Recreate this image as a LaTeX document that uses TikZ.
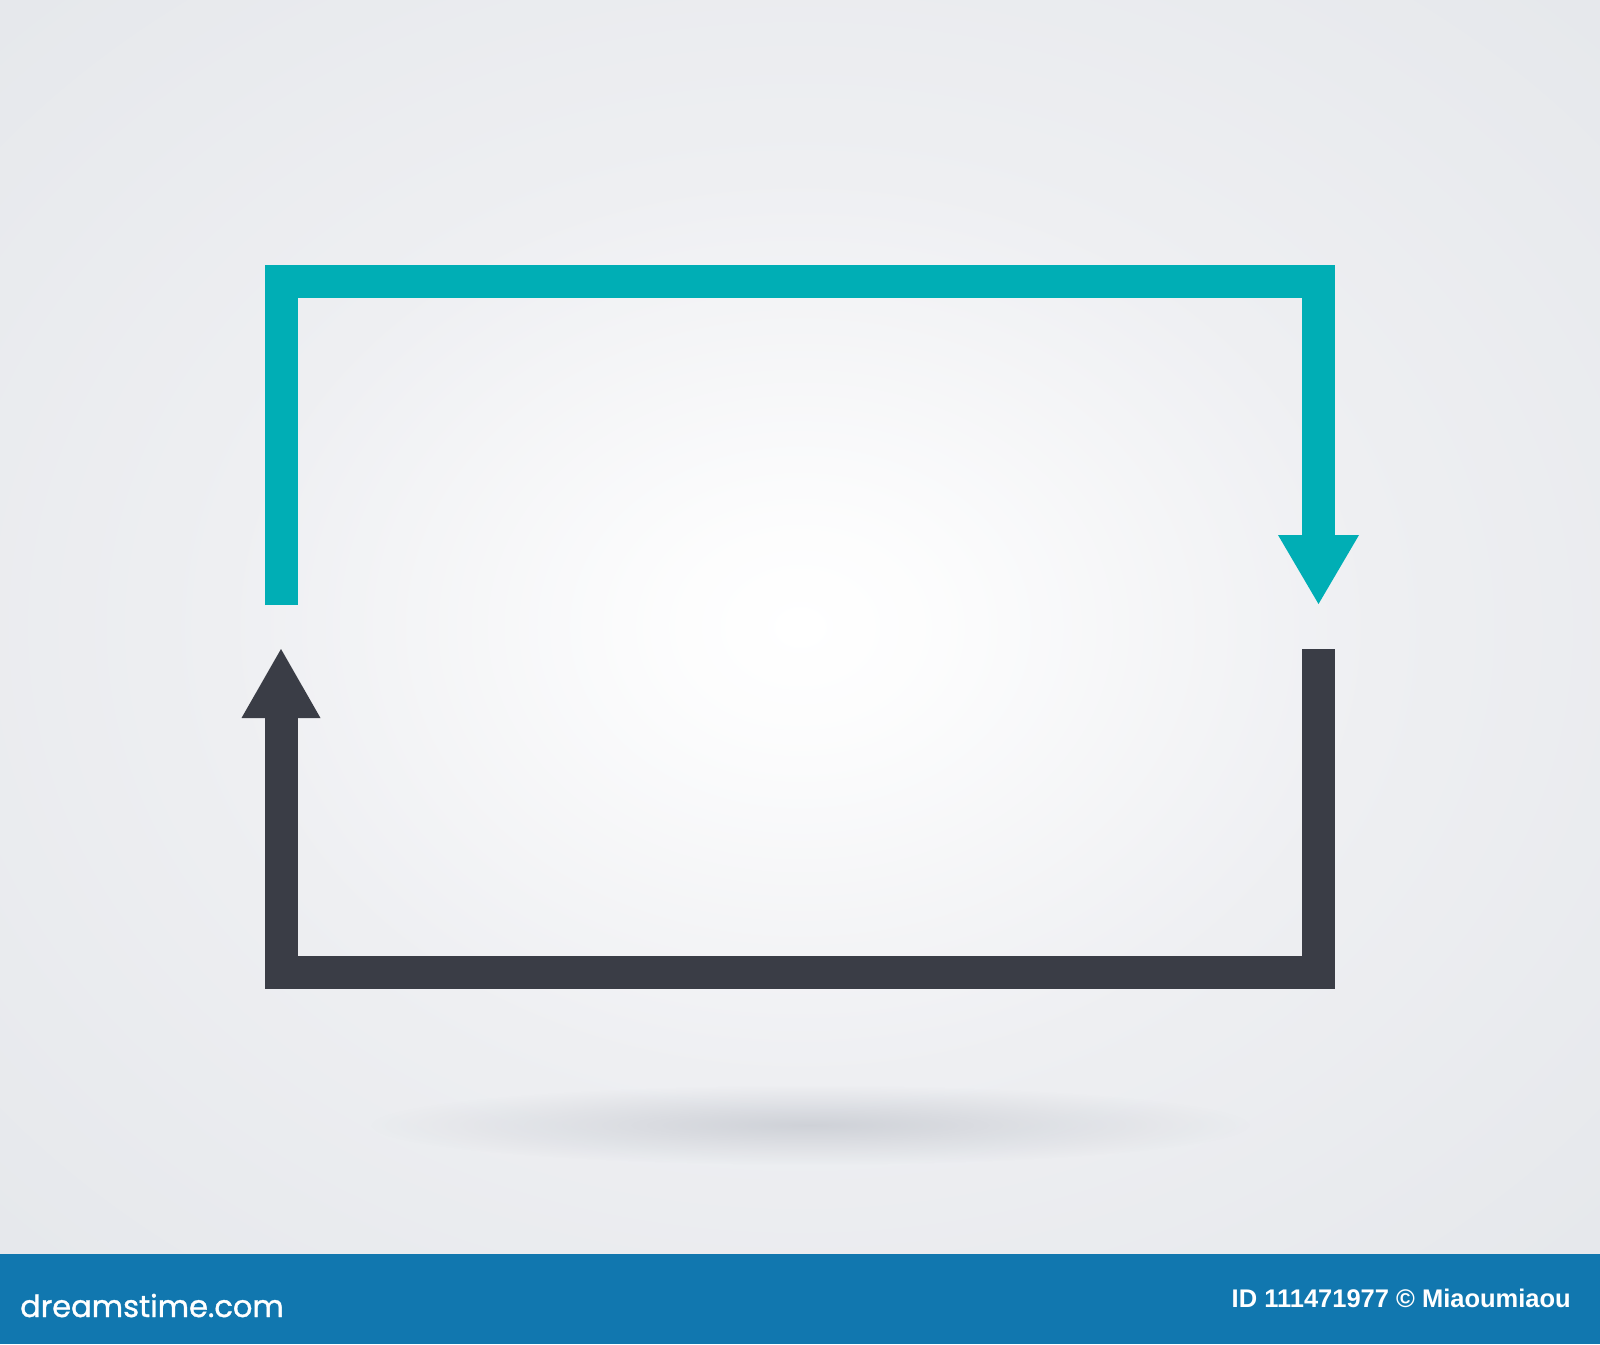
\documentclass[tikz,border=0pt]{standalone}
\usepackage{fontspec}
\newfontfamily\logofont[FakeBold=1.2]{Poppins}
\newfontfamily\idfont{Liberation Sans}
\usetikzlibrary{fadings}
\definecolor{tealc}{HTML}{00AEB5}
\definecolor{darkc}{HTML}{3A3D46}
\definecolor{bandc}{HTML}{1177AF}
\definecolor{bgedge}{RGB}{225,228,232}
\definecolor{bgmid}{RGB}{238,239,242}
\definecolor{shadowc}{RGB}{170,175,185}
\pgfdeclareradialshading{bgshade}{\pgfpoint{0bp}{0bp}}{color(0bp)=(white); color(4bp)=(white!85!bgmid); color(18bp)=(bgmid); color(45bp)=(bgedge); color(75bp)=(bgedge)}
\tikzfading[name=softfade, inner color=transparent!0, outer color=transparent!100]
\tikzset{
  loopline/.style={line width=33pt, line join=miter, line cap=butt},
  tiphead/.style={draw=none},
  bandtext/.style={text=white, inner sep=0pt}
}
\begin{document}
\begin{tikzpicture}[x=1pt, y=-1pt]
\useasboundingbox (0,0) rectangle (1600,1344);
% background
\shade[shading=bgshade] (0,0) rectangle (1600,1254);
% soft shadow
\fill[shadowc, opacity=0.45, path fading=softfade] (810,1125) ellipse [x radius=440pt, y radius=40pt];
% coordinates
\coordinate (tStart) at (281,605);
\coordinate (tC1) at (281,281);
\coordinate (tC2) at (1318.5,281);
\coordinate (tEnd) at (1318.5,535);
\coordinate (tL) at (1278,535);
\coordinate (tR) at (1359,535);
\coordinate (tTip) at (1318.5,604);
\coordinate (dStart) at (1318.5,649);
\coordinate (dC1) at (1318.5,972.5);
\coordinate (dC2) at (281,972.5);
\coordinate (dEnd) at (281,718);
\coordinate (dL) at (241.5,718);
\coordinate (dR) at (320.5,718);
\coordinate (dTip) at (281,649);
% teal arrow
\draw[loopline, tealc] (tStart) -- (tC1) -- (tC2) -- (tEnd);
\fill[tealc, tiphead] (tL) -- (tR) -- (tTip) -- cycle;
% dark arrow
\draw[loopline, darkc] (dStart) -- (dC1) -- (dC2) -- (dEnd);
\fill[darkc, tiphead] (dL) -- (dR) -- (dTip) -- cycle;
% bottom band
\fill[bandc] (0,1254) rectangle (1600,1344);
\node[bandtext, anchor=base west, font=\logofont\fontsize{30.5}{34}\selectfont] (logo) at (20,1317) {dreamstime.com};
\node[bandtext, anchor=base east, font=\idfont\bfseries\fontsize{25.5}{29}\selectfont] (idtxt) at (1571,1307) {ID 111471977 © Miaoumiaou};
\end{tikzpicture}
\end{document}
